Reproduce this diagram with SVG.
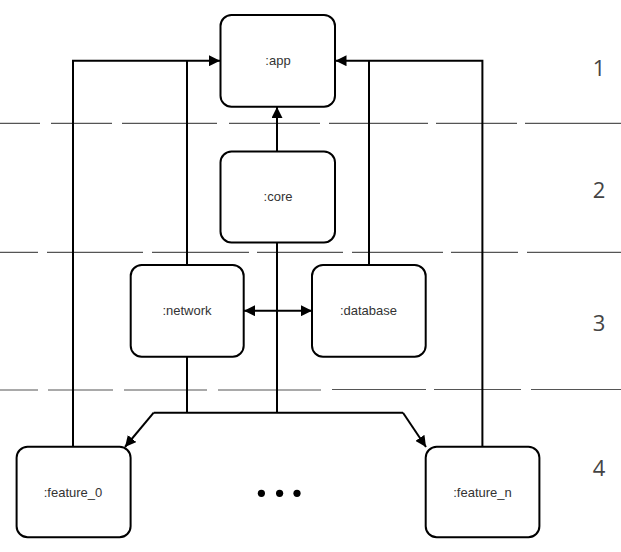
<svg xmlns="http://www.w3.org/2000/svg" width="621" height="552" viewBox="0 0 621 552">
<style>
.box{fill:#fff;stroke:#000;stroke-width:2}
.lbl{font-family:"Liberation Sans",Arial,sans-serif;font-size:13px;fill:#333;text-anchor:middle}
.num{font-family:"Open Sans","Noto Sans",sans-serif;font-size:22px;fill:#444;text-anchor:middle}
.dash{stroke:#555;stroke-width:1.2;fill:none}
.con{stroke:#000;stroke-width:2;fill:none}
</style>
<defs>
<marker id="ah" viewBox="0 0 10 10" refX="10" refY="5" markerWidth="11" markerHeight="11" markerUnits="userSpaceOnUse" orient="auto-start-reverse">
<path d="M0,0 L10,5 L0,10 Z" fill="#000"/>
</marker>
</defs>
<g id="layers">
<path class="dash" d="M0,123.3H40M51,123.3H112M122,123.3H217M229,123.3H320M329,123.3H428M436,123.3H517M525,123.3H621"/>
<path class="dash" d="M0,252.3H38M47,252.3H143M152,252.3H249M257,252.3H343M352,252.3H443M451,252.3H518M527,252.3H621"/>
<path class="dash" d="M0,390H38M48,390H113M124,390H207M218,390H321M332,389.5H426M434,389.5H521M531,389.5H621"/>
<text class="num" x="599" y="76">1</text>
<text class="num" x="599" y="198">2</text>
<text class="num" x="599" y="331">3</text>
<text class="num" x="599" y="476">4</text>
</g>
<g id="connectors">
<path class="con" d="M73,446.7V60.7H220" marker-end="url(#ah)"/>
<path class="con" d="M187,265V60.7"/>
<path class="con" d="M482.4,446.7V60.7H335.5" marker-end="url(#ah)"/>
<path class="con" d="M369,265V60.7"/>
<path class="con" d="M277,152V107" marker-end="url(#ah)"/>
<path class="con" d="M277,242.5V412.7"/>
<path class="con" d="M187,356.7V412.7"/>
<path class="con" d="M153.7,412.7H403"/>
<path class="con" d="M153.7,412.7L125,447" marker-end="url(#ah)"/>
<path class="con" d="M403,412.7L426,447" marker-end="url(#ah)"/>
<path class="con" d="M244,310.7H312" marker-start="url(#ah)" marker-end="url(#ah)"/>
</g>
<g id="app"><rect class="box" x="220.5" y="15" width="114.5" height="91.7" rx="11"/><text class="lbl" x="278" y="65">:app</text></g>
<g id="core"><rect class="box" x="220.5" y="151.5" width="114.5" height="91" rx="11"/><text class="lbl" x="278" y="201">:core</text></g>
<g id="network"><rect class="box" x="130.7" y="265" width="113" height="91.7" rx="11"/><text class="lbl" x="187" y="315">:network</text></g>
<g id="database"><rect class="box" x="312" y="265" width="113.7" height="91.7" rx="11"/><text class="lbl" x="368.5" y="315">:database</text></g>
<g id="feature_0"><rect class="box" x="16.6" y="446.7" width="114" height="90.6" rx="11"/><text class="lbl" x="73" y="497">:feature_0</text></g>
<g id="feature_n"><rect class="box" x="425.7" y="446.7" width="113.7" height="90.6" rx="11"/><text class="lbl" x="482.5" y="497">:feature_n</text></g>
<g id="ellipsis" fill="#000"><circle cx="261.4" cy="493.3" r="3.6"/><circle cx="279.6" cy="493.3" r="3.6"/><circle cx="297" cy="493.3" r="3.6"/></g>
</svg>
